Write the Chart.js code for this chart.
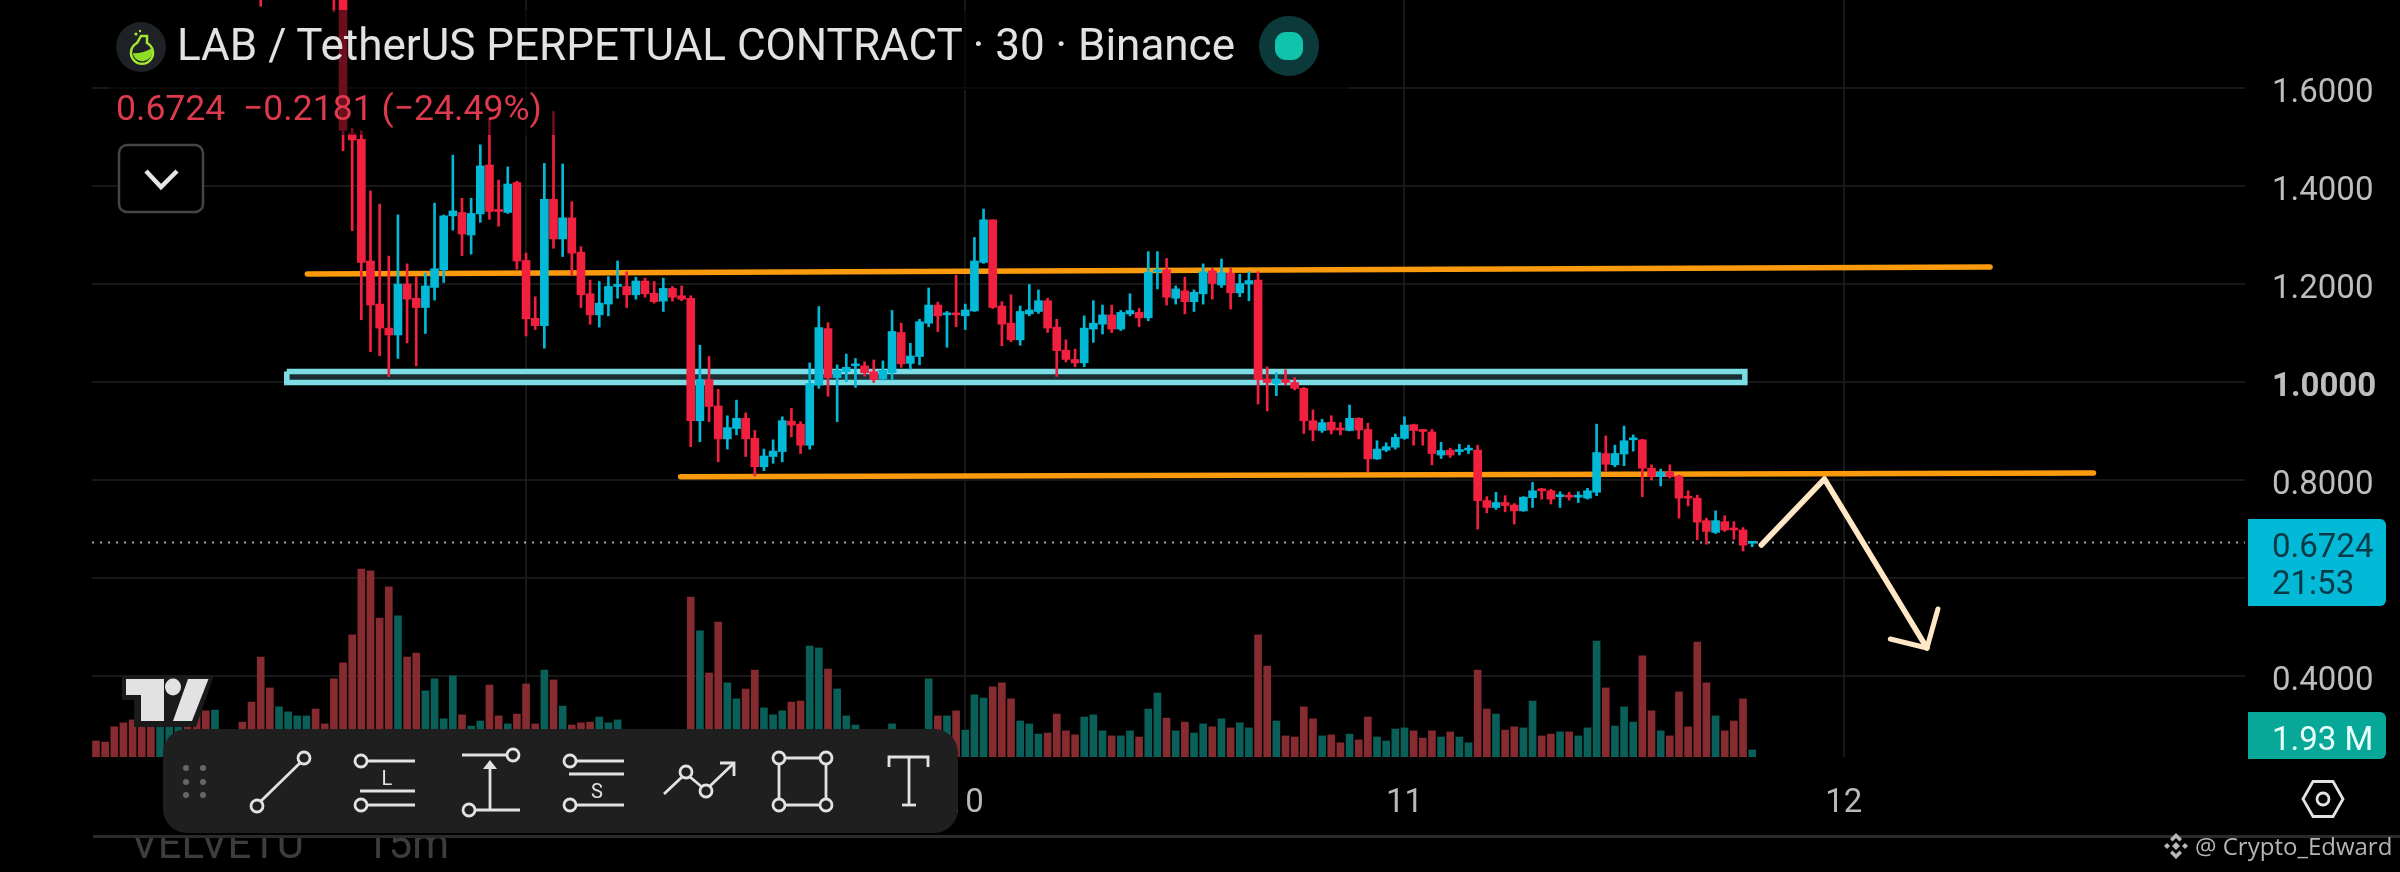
<!DOCTYPE html>
<html><head><meta charset="utf-8">
<style>
html,body{margin:0;padding:0;background:#000;width:2400px;height:872px;overflow:hidden}
#wrap{position:relative;width:2400px;height:872px;font-family:Roboto,sans-serif}
canvas{position:absolute;left:0;top:0}
.t{position:absolute;white-space:pre;line-height:1}
</style>
</head><body>
<div id="wrap">
<canvas id="c" width="2400" height="872" style="width:2400px;height:872px"></canvas>
<div style="position:absolute;left:110px;top:10px;width:1240px;height:80px;background:rgba(0,0,0,.55)"></div>
<div style="position:absolute;left:110px;top:90px;width:450px;height:45px;background:rgba(0,0,0,.55)"></div>
<svg width="2400" height="872" viewBox="0 0 2400 872" style="position:absolute;left:0;top:0">
  <!-- symbol icon -->
  <circle cx="141" cy="47" r="25" fill="#1e2226"/>
  <path d="M141 36h6v7a11 11 0 1 1-10 0z" fill="none" stroke="#a5e630" stroke-width="2.5"/>
  <path d="M133 53q10 1 19-5a10 10 0 0 1-8 13 9 9 0 0 1-11-8z" fill="#8fdc25"/>
  <circle cx="136" cy="34" r="1.6" fill="#a5e630"/><circle cx="140" cy="31" r="1.2" fill="#a5e630"/>
  <!-- market dot -->
  <circle cx="1289" cy="46" r="30" fill="#0c3a3a"/>
  <rect x="1275" y="32" width="28" height="28" rx="11" fill="#10c4ab"/>
  <!-- collapse button -->
  <rect x="119" y="145" width="84" height="67" rx="8" fill="#000" stroke="#454545" stroke-width="2.5"/>
  <path d="M146 171l15 16l16-16" fill="none" stroke="#e6e6e6" stroke-width="4.5"/>
  <!-- TV logo -->
  <path d="M122 675H214L196 727H168V727H134V700H122z" fill="#1a1a1a"/>
  <path d="M126 679H164V721H141V695H126z" fill="#e2e2e2"/>
  <ellipse cx="173" cy="687" rx="8" ry="8.5" fill="#e2e2e2"/>
  <path d="M188 679H208.5L192 721H173z" fill="#e2e2e2"/>
  <!-- separator -->
  <rect x="93" y="835" width="2307" height="3" fill="#2b2b2b"/>
  <!-- toolbar -->
  <rect x="958" y="785" width="7" height="27" fill="#000"/>
  <rect x="163" y="729" width="795" height="104" rx="24" fill="#1f1f1f"/>
  <g fill="#666"><circle cx="186" cy="768" r="3"/><circle cx="203" cy="768" r="3"/><circle cx="186" cy="782" r="3"/><circle cx="203" cy="782" r="3"/><circle cx="186" cy="795" r="3"/><circle cx="203" cy="795" r="3"/></g>
  <g fill="none" stroke="#e2e2e2" stroke-width="2.8">
    <circle cx="304" cy="758" r="6"/><circle cx="257" cy="806" r="6"/><path d="M300 763L261 801"/>
    <circle cx="361" cy="761" r="6"/><path d="M367 761H415"/><path d="M360 791H415"/><circle cx="361" cy="805" r="6"/><path d="M367 805H415"/>
    <path d="M462 755H507"/><circle cx="513" cy="755" r="6"/><circle cx="469" cy="810" r="6"/><path d="M475 810H520"/><path d="M490 810V768"/>
    <circle cx="570" cy="761" r="6"/><path d="M576 761H624"/><path d="M569 774H624"/><circle cx="570" cy="805" r="6"/><path d="M576 805H624"/>
    <path d="M664 794L682 777"/><circle cx="686" cy="772" r="6"/><path d="M690 777L702 787"/><circle cx="706" cy="791" r="6"/><path d="M710 786L734 763"/><path d="M720 763H734V776"/>
    <circle cx="779" cy="758" r="6"/><circle cx="826" cy="758" r="6"/><circle cx="779" cy="805" r="6"/><circle cx="826" cy="805" r="6"/><path d="M785 758H820M785 805H820M779 764V799M826 764V799"/>
    <path d="M889 767V757H928V767"/><path d="M909 757V805"/><path d="M902 805H916"/>
  </g>
  <path d="M490 760l-7 9h14z" fill="#e2e2e2"/>
  <text x="387" y="785" font-family="Roboto" font-size="20" fill="#e2e2e2" text-anchor="middle">L</text>
  <text x="597" y="798" font-family="Roboto" font-size="20" fill="#e2e2e2" text-anchor="middle">S</text>
  <!-- settings -->
  <path d="M2313 781.500H2333L2343 799L2333 816.500H2313L2303 799z" fill="none" stroke="#e2e2e2" stroke-width="2.800"/>
  <circle cx="2323" cy="799" r="6" fill="none" stroke="#e2e2e2" stroke-width="2.800"/>
  <!-- price chips -->
  <path d="M2248 519H2380a6 6 0 0 1 6 6V600a6 6 0 0 1-6 6H2248z" fill="#03b9d8"/>
  <path d="M2248 712H2380a6 6 0 0 1 6 6V753a6 6 0 0 1-6 6H2248z" fill="#08a899"/>
  <!-- watermark icon -->
  <g fill="#b9b9b9"><path d="M2176 833l6 6-2.500 2.500-3.500-3.500-3.500 3.500-2.500-2.500z"/><path d="M2176 859l6-6-2.500-2.500-3.500 3.500-3.500-3.500-2.500 2.500z"/><path d="M2176 842l4 4-4 4-4-4z"/><path d="M2164 846l3-3 3 3-3 3z"/><path d="M2188 846l-3-3-3 3 3 3z"/></g>
</svg>
<div class="t" style="left:177px;top:23px;font-size:44px;color:#e2e2e2" id="title">LAB / TetherUS PERPETUAL CONTRACT · 30 · Binance</div>
<div class="t" style="left:116px;top:91px;font-size:35.600px;color:#dd3a4d">0.6724  −0.2181 (−24.49%)</div>
<div class="t" style="left:2272px;top:529px;font-size:33px;color:#0a3a46">0.6724</div>
<div class="t" style="left:2272px;top:566px;font-size:33px;color:#0a3a46">21:53</div>
<div class="t" style="left:2272px;top:722px;font-size:33px;color:#e6fffb">1.93 M</div>
<div class="t" style="left:2195px;top:834px;font-size:24px;color:#b5b5b5;font-family:'Open Sans',sans-serif">@ Crypto_Edward</div>
<div style="position:absolute;left:120px;top:838px;width:340px;height:30px;overflow:hidden;color:#3d3d3d">
  <div class="t" style="left:11px;top:-15px;font-size:42px">VELVETU</div>
  <div class="t" style="left:245px;top:-15px;font-size:42px">15m</div>
</div>
</div>
<script src="https://cdn.jsdelivr.net/npm/chart.js@4/dist/chart.umd.js"></script>
<script>
// i = 0..181 (30-minute bars). The first 27 sit above the visible price range.
const opens=[2,2,2,2,2,2,2,1.98,1.98,1.98,2,2,2,1.98,1.98,2,2,2,2,2,1.98,1.98,1.98,1.98,2,2,2,
1.900,1.507,1.495,1.247,1.159,1.110,1.096,1.200,1.171,1.152,1.193,1.229,1.339,1.346,1.300,1.343,1.443,1.351,1.346,1.407,1.248,1.130,1.115,1.373,1.292,1.335,1.265,1.180,1.137,1.159,1.195,1.195,1.178,1.206,1.181,1.165,1.191,1.176,1.171,0.921,1.005,0.951,0.884,0.905,0.926,0.885,0.827,0.848,0.858,0.920,0.914,0.871,0.994,1.109,1.009,1.021,1.033,1.033,1.021,1.006,1.019,1.101,1.038,1.052,1.120,1.157,1.137,1.141,1.135,1.145,1.244,1.331,1.155,1.120,1.086,1.139,1.144,1.166,1.112,1.065,1.046,1.039,1.108,1.118,1.137,1.108,1.139,1.142,1.131,1.225,1.229,1.171,1.186,1.164,1.180,1.227,1.198,1.222,1.182,1.200,1.208,1.006,0.997,1.005,0.999,0.987,0.921,0.901,0.918,0.905,0.901,0.926,0.903,0.843,0.861,0.867,0.885,0.913,0.902,0.898,0.851,0.861,0.858,0.861,0.861,0.758,0.744,0.754,0.749,0.737,0.764,0.781,0.778,0.766,0.769,0.765,0.763,0.775,0.854,0.831,0.853,0.882,0.882,0.824,0.807,0.816,0.808,0.767,0.763,0.717,0.693,0.715,0.701,0.698,0.671];
const closes=[1.98,1.98,1.98,1.98,1.98,1.98,1.98,2,2,2,1.98,1.98,1.98,2,2,1.98,1.98,1.98,1.98,1.98,2,2,2,2,1.98,1.98,1.98,
1.514,1.494,1.244,1.157,1.110,1.096,1.200,1.169,1.152,1.196,1.231,1.339,1.349,1.302,1.344,1.441,1.348,1.348,1.404,1.247,1.129,1.115,1.373,1.292,1.335,1.263,1.178,1.137,1.161,1.195,1.198,1.178,1.206,1.180,1.164,1.191,1.173,1.169,0.921,1.005,0.950,0.884,0.907,0.926,0.884,0.827,0.849,0.859,0.921,0.912,0.871,0.997,1.111,1.009,1.024,1.030,1.036,1.019,1.005,1.024,1.103,1.037,1.053,1.123,1.157,1.135,1.141,1.137,1.147,1.247,1.331,1.152,1.118,1.086,1.144,1.147,1.166,1.110,1.064,1.046,1.039,1.110,1.120,1.137,1.108,1.142,1.146,1.131,1.224,1.229,1.173,1.190,1.164,1.183,1.225,1.201,1.223,1.182,1.201,1.207,1.005,0.999,1.006,0.999,0.987,0.921,0.902,0.917,0.902,0.902,0.926,0.902,0.843,0.863,0.868,0.887,0.912,0.901,0.899,0.854,0.860,0.851,0.861,0.865,0.758,0.744,0.754,0.748,0.737,0.765,0.778,0.778,0.761,0.769,0.765,0.769,0.778,0.856,0.832,0.854,0.880,0.886,0.824,0.807,0.816,0.807,0.763,0.763,0.714,0.695,0.717,0.698,0.698,0.667,0.6724];
const highs=[2.05,2.05,2.05,2.05,2.05,2.05,2.05,2.05,2.05,2.05,2.05,2.05,2.05,2.05,2.05,2.05,2.05,2.05,2.05,2.05,2.05,2.05,2.05,2.05,2.05,2.05,2.05,
2.0,1.518,1.513,1.390,1.363,1.257,1.341,1.241,1.215,1.222,1.365,1.341,1.463,1.375,1.375,1.484,1.535,1.412,1.439,1.410,1.263,1.174,1.446,1.552,1.445,1.368,1.276,1.208,1.205,1.215,1.247,1.225,1.214,1.212,1.205,1.212,1.195,1.196,1.176,1.075,1.052,0.985,0.931,0.963,0.937,0.901,0.863,0.882,0.929,0.946,0.919,1.039,1.154,1.121,1.035,1.057,1.048,1.041,1.045,1.043,1.146,1.120,1.079,1.128,1.192,1.163,1.144,1.218,1.159,1.295,1.353,1.331,1.164,1.178,1.155,1.199,1.188,1.171,1.128,1.086,1.067,1.135,1.166,1.157,1.157,1.146,1.180,1.150,1.266,1.266,1.252,1.196,1.214,1.188,1.241,1.232,1.251,1.232,1.220,1.225,1.225,1.031,1.019,1.025,1.009,0.989,0.943,0.924,0.931,0.917,0.953,0.927,0.916,0.880,0.876,0.894,0.929,0.914,0.903,0.903,0.877,0.865,0.873,0.871,0.871,0.766,0.775,0.768,0.752,0.766,0.795,0.783,0.781,0.776,0.775,0.776,0.783,0.914,0.890,0.871,0.910,0.892,0.883,0.831,0.822,0.831,0.810,0.778,0.769,0.722,0.737,0.727,0.715,0.703,0.6724];
const lows=[1.95,1.95,1.95,1.95,1.95,1.95,1.95,1.95,1.95,1.95,1.95,1.95,1.95,1.95,1.95,1.95,1.95,1.95,1.767,1.95,1.95,1.95,1.95,1.95,1.95,1.95,1.755,
1.472,1.309,1.127,1.062,1.054,1.011,1.048,1.080,1.033,1.099,1.167,1.203,1.310,1.258,1.261,1.326,1.332,1.318,1.344,1.230,1.094,1.107,1.069,1.273,1.256,1.218,1.152,1.118,1.112,1.135,1.171,1.152,1.169,1.173,1.161,1.144,1.165,1.166,0.868,0.878,0.919,0.837,0.863,0.892,0.848,0.808,0.819,0.834,0.837,0.888,0.854,0.863,0.987,0.971,0.919,1.001,0.989,1.012,0.999,1.004,1.004,1.030,1.026,1.035,1.113,1.103,1.071,1.113,1.107,1.144,1.242,1.150,1.074,1.082,1.075,1.135,1.140,1.101,1.011,1.041,1.031,1.031,1.081,1.098,1.101,1.105,1.135,1.113,1.125,1.190,1.157,1.159,1.139,1.144,1.159,1.169,1.193,1.149,1.174,1.166,0.955,0.941,0.972,0.994,0.984,0.895,0.880,0.897,0.894,0.892,0.900,0.884,0.817,0.842,0.858,0.863,0.883,0.871,0.871,0.831,0.844,0.846,0.851,0.854,0.700,0.733,0.740,0.735,0.710,0.736,0.744,0.761,0.751,0.744,0.759,0.754,0.761,0.768,0.818,0.827,0.829,0.859,0.766,0.800,0.788,0.804,0.722,0.747,0.678,0.669,0.691,0.695,0.679,0.655,0.664];
const volumesM=[4.4,4.1,8.3,9.4,10.2,8.5,8.5,8.5,8.3,8.3,11,12.4,12.7,12.9,6.1,6.6,9.6,15.1,27.5,19,13.8,12.4,11.3,11.3,13.2,9.1,21.5,25.9,33.6,51.7,51.2,38.2,46.8,38.8,27.5,28.6,18.2,21.5,10.5,22.3,11.6,8.5,9.9,19.8,11.3,9.1,11.8,20.1,9.1,23.9,21.2,14,8.8,9.4,9.6,11,9.4,10.2,6,5.5,5,5,5.5,5,6,44,34.7,23.1,37.1,20.4,16,18.7,23.9,13.5,11.6,12.7,15.1,15.4,30.5,30,24.2,18.7,11.3,8.8,5.5,6,5,9.1,5.5,5,6,21.5,11.3,11.3,12.7,7.4,17.1,16.2,19.3,20.4,16,9.9,9.1,6.3,6.6,11.8,7.2,6.1,11,11.6,7.2,5.8,5.8,7.2,5.5,13.2,17.6,10.7,7.2,9.6,6.6,9.1,8.3,10.5,8,9.4,8,33.6,25,9.9,5.8,5.5,13.8,10.5,5.8,6.1,3.9,6.3,4.7,11,5.5,4.4,7.7,8,7.2,5.2,7.2,5.5,6.9,5.5,3.9,23.9,13.2,11.8,7.4,8.3,8,15.4,5.8,6.3,6.9,6.9,5.8,8,31.9,19,8.5,13.8,9.6,27.8,12.7,7.2,5.8,17.9,8.3,31.6,20.4,11.3,7.2,9.9,16,1.93];

const priceTicks=[0.4,0.6,0.8,1.0,1.2,1.4,1.6];
const hiddenPriceTick=0.6;
const dayTicks=[47,95,143,191];
const dayLabels=['9','10','11','12'];
const lastPrice=0.6724;

const resistanceLine=[{x:23.1,y:1.2204},{x:207,y:1.2347}];
const supportLine=[{x:63.9,y:0.8067},{x:218.3,y:0.8143}];
const zoneLeft=20.85, zoneRight=180.2, zoneTop=1.0214, zoneBottom=0.999;
const arrowPath=[{x:182,y:0.6674},{x:188.9,y:0.802},{x:200.1,y:0.4571}];
const arrowHead=[{x:201.3,y:0.5367},{x:200.1,y:0.4571},{x:196.1,y:0.4755}];

const UP='#03b9d8', DOWN='#f2203f', VUP='#0a5f58', VDOWN='#862b30';
const idx=opens.map((_,i)=>i);
const isUp=idx.map(i=>closes[i]>=opens[i]);
const noPts={pointRadius:0,pointHoverRadius:0};
const orange='#fb9a0c', zoneC='#7cdde6', peach='#ffe6c4', gridC='#181818';
const noPad=s=>{s.paddingTop=0;s.paddingBottom=0;s.paddingLeft=0;s.paddingRight=0;};

new Chart(document.getElementById('c'),{
  type:'bar',
  data:{datasets:[
    {type:'line',order:2,data:arrowPath,borderColor:peach,borderWidth:5.5,borderCapStyle:'round',borderJoinStyle:'round',...noPts},
    {type:'line',order:2,data:arrowHead,borderColor:peach,borderWidth:5,borderCapStyle:'round',borderJoinStyle:'round',...noPts},
    {order:3,data:idx.map(i=>({x:i,y:[Math.min(opens[i],closes[i]),Math.max(opens[i],closes[i])]})),backgroundColor:idx.map(i=>isUp[i]?UP:DOWN),barThickness:8,grouped:false,minBarLength:2},
    {order:4,data:idx.map(i=>({x:i,y:[lows[i],highs[i]]})),backgroundColor:idx.map(i=>isUp[i]?UP:DOWN),barThickness:2,grouped:false},
    {order:5,yAxisID:'yV',data:idx.map(i=>({x:i,y:volumesM[i]})),backgroundColor:idx.map(i=>isUp[i]?VUP:VDOWN),barThickness:7,grouped:false},
    {type:'line',order:6,data:resistanceLine,borderColor:orange,borderWidth:5.5,borderCapStyle:'round',...noPts},
    {type:'line',order:6,data:supportLine,borderColor:orange,borderWidth:5.5,borderCapStyle:'round',...noPts},
    {type:'line',order:7,data:[{x:zoneLeft,y:zoneTop},{x:zoneRight,y:zoneTop},{x:zoneRight,y:zoneBottom},{x:zoneLeft,y:zoneBottom},{x:zoneLeft,y:zoneTop}],borderColor:zoneC,borderWidth:5.5,borderJoinStyle:'miter',...noPts},
    {type:'line',order:8,data:[{x:zoneLeft,y:zoneTop},{x:zoneRight,y:zoneTop}],borderWidth:0,fill:{target:{value:zoneBottom}},backgroundColor:'#1a2d31',...noPts},
    {type:'line',order:9,data:[{x:-0.437,y:lastPrice},{x:234.86,y:lastPrice}],borderColor:'#93a9ab',borderWidth:2,borderDash:[2,6],...noPts}
  ]},
  options:{
    responsive:false,animation:false,devicePixelRatio:1,
    layout:{autoPadding:false,padding:{left:92,right:0,top:0,bottom:0}},
    plugins:{legend:{display:false},tooltip:{enabled:false}},
    scales:{
      x:{type:'linear',offset:false,min:-0.437,max:234.86,
        afterBuildTicks:s=>{s.ticks=dayTicks.map(v=>({value:v}));},
        afterFit:s=>{s.height=115;noPad(s);},
        grid:{color:gridC,lineWidth:2,drawTicks:false,offset:false},border:{display:false},
        ticks:{autoSkip:false,maxRotation:0,padding:27,color:'#b8b8b8',font:{family:'Roboto',size:33},
          callback:v=>dayLabels[dayTicks.indexOf(v)]}},
      y:{type:'linear',position:'right',min:0.2347,max:1.7796,
        afterBuildTicks:s=>{s.ticks=priceTicks.map(v=>({value:v}));},
        afterFit:s=>{s.width=155;noPad(s);},
        grid:{color:gridC,lineWidth:2,drawTicks:false},border:{display:false},
        ticks:{autoSkip:false,padding:27,labelOffset:6,color:'#bdbdbd',
          font:c=>({family:'Roboto',size:33,weight:c.tick&&c.tick.value===1?'bold':'normal'}),
          callback:v=>v===hiddenPriceTick?'':v.toFixed(4)}},
      yV:{type:'linear',display:false,min:0,max:208.2,grid:{display:false},afterFit:noPad}
    }
  }
});
</script>
</body></html>
